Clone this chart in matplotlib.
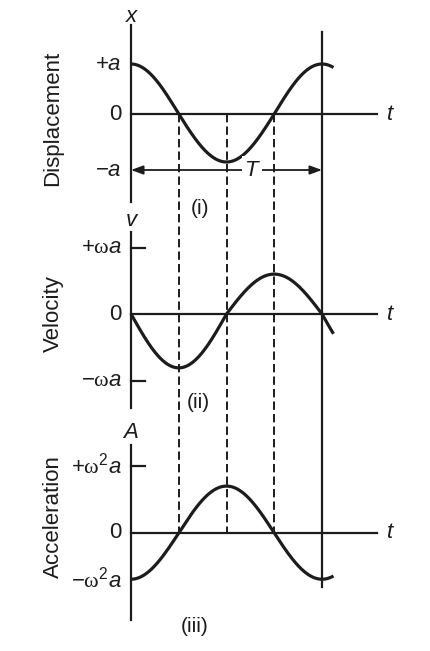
import matplotlib
matplotlib.use("Agg")
import matplotlib.pyplot as plt
import numpy as np

plt.rcParams['mathtext.fontset'] = 'custom'
plt.rcParams['mathtext.rm'] = 'Liberation Serif'
plt.rcParams['mathtext.it'] = 'Liberation Sans:italic'
plt.rcParams['mathtext.sf'] = 'Liberation Sans'
plt.rcParams['font.family'] = ['Liberation Sans', 'DejaVu Sans']
plt.rcParams['lines.scale_dashes'] = False

# ---------------- data ----------------
period = 1.0
t_end = 1.06
t_axis_end = 1.288
quarter_marks = [0.25, 0.5, 0.75]

panel_titles = ['Displacement', 'Velocity', 'Acceleration']
axis_symbols = ['x', 'v', 'A']
panel_tags = ['(i)', '(ii)', '(iii)']
upper_labels = [r'$\mathsf{+}a$', r'$\mathsf{+}\mathrm{\omega}a$',
                r'$\mathsf{+}\mathrm{\omega}^{\mathsf{2}}a$']
lower_labels = [r'$\mathsf{-}a$', r'$\mathsf{-}\mathrm{\omega}a$',
                r'$\mathsf{-}\mathrm{\omega}^{\mathsf{2}}a$']
upper_values = [1.0, 1.0, 1.0]
lower_values = [-1.12, -1.0, -0.69]
upper_tick = [False, True, True]
lower_tick = [False, True, False]
# curve lobes (positive / negative amplitude, in units of the tick value)
pos_amp = [1.0, 0.60, 0.70]
neg_amp = [0.96, 0.81, 0.69]
shapes = ['cos', '-sin', '-cos']

# ---------------- layout ----------------
W, H = 431, 651
zero_px = [114, 314, 533]
unit_px = [50, 66.5, 67]
axis_span = [(25, 202), (232, 408), (445, 620)]
symbol_y = [16, 220, 432]
title_y = [118, 314, 517]
tag_xy = [(0.36, 209), (0.35, 403), (0.335, 627)]
px_per_t = 191.0
x0_px = 131.0
ink = '#1c1c1c'

fig = plt.figure(figsize=(W / 100, H / 100), dpi=100)
ax = fig.add_axes([0, 0, 1, 1])
ax.set_xlim(-x0_px / px_per_t, (W - x0_px) / px_per_t)
ax.set_ylim(H, 0)
ax.axis('off')

def to_y(k, v):
    return zero_px[k] - unit_px[k] * np.asarray(v)

t = np.linspace(0, t_end, 400)
for k in range(3):
    if shapes[k] == 'cos':
        base = np.cos(2 * np.pi * t / period)
    elif shapes[k] == '-sin':
        base = -np.sin(2 * np.pi * t / period)
    else:
        base = -np.cos(2 * np.pi * t / period)
    val = np.where(base >= 0, base * pos_amp[k], base * neg_amp[k])
    ax.plot(t, to_y(k, val), color=ink, lw=2.3, solid_capstyle='butt', zorder=4)
    # vertical axis
    ax.plot([0, 0], axis_span[k], color=ink, lw=1.6, zorder=3)
    # horizontal axis
    ax.plot([0, t_axis_end], [zero_px[k]] * 2, color=ink, lw=1.6, zorder=3)
    ax.text(t_axis_end + 13 / px_per_t, zero_px[k], 't', style='italic',
            fontsize=16, ha='center', va='center', color=ink)
    ax.text(0, symbol_y[k], axis_symbols[k], style='italic', fontsize=16,
            ha='center', va='center', color=ink)
    ax.text(-78 / px_per_t, title_y[k], panel_titles[k], rotation=90,
            fontsize=16, ha='center', va='center', color=ink)
    ax.text(-9 / px_per_t, zero_px[k], '0', fontsize=16, ha='right',
            va='center', color=ink)
    ax.text(-9 / px_per_t, to_y(k, upper_values[k]), upper_labels[k],
            fontsize=16, ha='right', va='center', color=ink)
    ax.text(-9 / px_per_t, to_y(k, lower_values[k]), lower_labels[k],
            fontsize=16, ha='right', va='center', color=ink)
    if upper_tick[k]:
        ax.plot([0, 14 / px_per_t], [to_y(k, upper_values[k])] * 2,
                color=ink, lw=1.6)
    if lower_tick[k]:
        ax.plot([0, 14 / px_per_t], [to_y(k, lower_values[k])] * 2,
                color=ink, lw=1.6)
    ax.text(tag_xy[k][0], tag_xy[k][1], panel_tags[k], fontsize=15,
            ha='center', va='center', color=ink)

# dashed guides
for q in quarter_marks:
    ax.plot([q, q], [zero_px[0], zero_px[2]], color=ink, lw=1.4,
            dashes=(6, 3), zorder=2)

# period line
ax.plot([period, period], [32, 587], color=ink, lw=1.6, zorder=3)

# period arrow
arrow_y = to_y(0, lower_values[0])
ax.annotate('', xy=(period, arrow_y), xytext=(0, arrow_y),
            arrowprops=dict(arrowstyle='<|-|>,head_length=0.6,head_width=0.22',
                            lw=1.3, color=ink, mutation_scale=12,
                            shrinkA=0, shrinkB=0), zorder=3)
ax.text(0.634, arrow_y, 'T', style='italic', fontsize=16, ha='center',
        va='center', color=ink, zorder=5,
        bbox=dict(boxstyle='square,pad=0.15', fc='white', ec='none'))

fig.savefig('out.png', dpi=100)
